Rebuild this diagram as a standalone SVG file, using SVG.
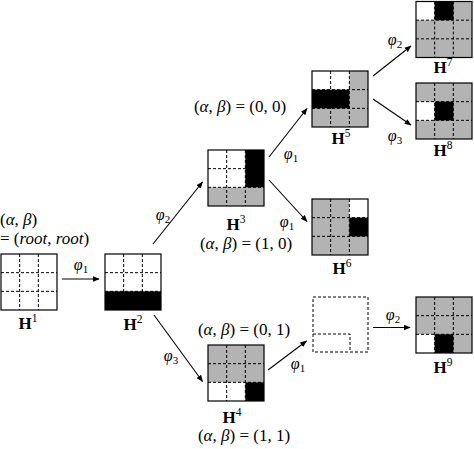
<svg xmlns="http://www.w3.org/2000/svg" xmlns:xlink="http://www.w3.org/1999/xlink" width="474" height="449" viewBox="0 0 474 449">
<style>
text{font-family:"Liberation Serif","DejaVu Serif",serif;fill:#000}
.m{font-size:17px}
.hl{font-size:17px;font-weight:bold;text-anchor:middle}
.hl tspan{font-size:11.5px;font-weight:normal}
.ph{font-size:16px;font-style:italic;text-anchor:middle}
.ph tspan{font-size:11px;font-style:normal}
.i{font-style:italic}
.dash{fill:none;stroke:#000;stroke-width:1;stroke-dasharray:3,2}
.border{fill:none;stroke:#000;stroke-width:1.2}
.g{fill:#b3b3b3}
.k{fill:#000}
.arr{fill:none;stroke:#000;stroke-width:1.1;marker-end:url(#ah)}
</style>
<defs>
<marker id="ah" viewBox="0 0 10 10" refX="9" refY="5" markerWidth="7" markerHeight="7" markerUnits="userSpaceOnUse" orient="auto">
<path d="M0,1L10,5L0,9z" fill="#000"/>
</marker>
<g id="grid">
<path class="dash" d="M18.67,0V56M37.33,0V56M0,18.67H56M0,37.33H56"/>
<rect class="border" x="0" y="0" width="56" height="56"/>
</g>
</defs>

<g id="connectors">
<line class="arr" x1="62" y1="279" x2="99" y2="279"/>
<line class="arr" x1="153" y1="244" x2="202.5" y2="182"/>
<line class="arr" x1="154" y1="315" x2="202.5" y2="381.5"/>
<line class="arr" x1="269" y1="157" x2="307" y2="108.5"/>
<line class="arr" x1="269" y1="180" x2="307" y2="221.5"/>
<line class="arr" x1="373" y1="76" x2="411" y2="46"/>
<line class="arr" x1="373" y1="99" x2="411" y2="125"/>
<line class="arr" x1="268" y1="370" x2="306.5" y2="341"/>
<line class="arr" x1="373" y1="327.5" x2="410" y2="327.5"/>
<text class="ph" x="81" y="270">φ<tspan dy="3">1</tspan></text>
<text class="ph" x="163" y="220">φ<tspan dy="3">2</tspan></text>
<text class="ph" x="171" y="361">φ<tspan dy="3">3</tspan></text>
<text class="ph" x="291" y="159">φ<tspan dy="3">1</tspan></text>
<text class="ph" x="287" y="227">φ<tspan dy="3">1</tspan></text>
<text class="ph" x="395" y="45">φ<tspan dy="3">2</tspan></text>
<text class="ph" x="395" y="141">φ<tspan dy="3">3</tspan></text>
<text class="ph" x="298" y="369">φ<tspan dy="3">1</tspan></text>
<text class="ph" x="393" y="320">φ<tspan dy="3">2</tspan></text>
</g>

<g id="H1">
<use xlink:href="#grid" transform="translate(1,254)"/>
<text class="hl" x="28" y="329">H<tspan dy="-7">1</tspan></text>
<text class="m" x="0" y="225">(<tspan class="i">α</tspan>, <tspan class="i">β</tspan>)</text>
<text class="m" x="0" y="244">= (<tspan class="i">root</tspan>, <tspan class="i">root</tspan>)</text>
</g>

<g id="H2">
<g transform="translate(105,254)">
<rect class="k" x="0" y="37.33" width="56" height="18.67"/>
<use xlink:href="#grid"/>
</g>
<text class="hl" x="133" y="330">H<tspan dy="-7">2</tspan></text>
</g>

<g id="H3">
<g transform="translate(208,150)">
<rect class="g" x="0" y="37.33" width="56" height="18.67"/>
<rect class="k" x="37.33" y="0" width="18.67" height="37.33"/>
<use xlink:href="#grid"/>
</g>
<text class="hl" x="236" y="230">H<tspan dy="-7">3</tspan></text>
<text class="m" x="246" y="249" text-anchor="middle">(<tspan class="i">α</tspan>, <tspan class="i">β</tspan>) = (1, 0)</text>
</g>

<g id="H5">
<g transform="translate(312,71)">
<rect class="g" x="37.33" y="0" width="18.67" height="56"/>
<rect class="g" x="0" y="37.33" width="56" height="18.67"/>
<rect class="k" x="0" y="18.67" width="37.33" height="18.67"/>
<use xlink:href="#grid"/>
</g>
<text class="hl" x="341" y="144">H<tspan dy="-7">5</tspan></text>
<text class="m" x="240" y="112" text-anchor="middle">(<tspan class="i">α</tspan>, <tspan class="i">β</tspan>) = (0, 0)</text>
</g>

<g id="H7">
<g transform="translate(416,1.5)">
<rect class="g" x="0" y="0" width="56" height="56"/>
<rect fill="#fff" x="0" y="0" width="18.67" height="18.67"/>
<rect class="k" x="18.67" y="0" width="18.67" height="18.67"/>
<use xlink:href="#grid"/>
</g>
<text class="hl" x="443" y="73">H<tspan dy="-7">7</tspan></text>
</g>

<g id="H8">
<g transform="translate(416,83)">
<rect class="g" x="0" y="0" width="56" height="56"/>
<rect fill="#fff" x="0" y="18.67" width="18.67" height="18.67"/>
<rect class="k" x="18.67" y="18.67" width="18.67" height="18.67"/>
<use xlink:href="#grid"/>
</g>
<text class="hl" x="443" y="156">H<tspan dy="-7">8</tspan></text>
</g>

<g id="H6">
<g transform="translate(312,199)">
<rect class="g" x="0" y="0" width="56" height="56"/>
<rect fill="#fff" x="37.33" y="0" width="18.67" height="18.67"/>
<rect class="k" x="37.33" y="18.67" width="18.67" height="18.67"/>
<use xlink:href="#grid"/>
</g>
<text class="hl" x="342" y="274">H<tspan dy="-7">6</tspan></text>
</g>

<g id="H4">
<g transform="translate(208,345)">
<rect class="g" x="0" y="0" width="56" height="37.33"/>
<rect class="k" x="37.33" y="37.33" width="18.67" height="18.67"/>
<use xlink:href="#grid"/>
</g>
<text class="hl" x="232" y="423">H<tspan dy="-7">4</tspan></text>
<text class="m" x="244" y="335" text-anchor="middle">(<tspan class="i">α</tspan>, <tspan class="i">β</tspan>) = (0, 1)</text>
<text class="m" x="244" y="441" text-anchor="middle">(<tspan class="i">α</tspan>, <tspan class="i">β</tspan>) = (1, 1)</text>
</g>

<g id="empty">
<rect class="dash" x="313" y="297" width="55" height="55"/>
<path class="dash" d="M313,334H350V352"/>
</g>

<g id="H9">
<g transform="translate(416,297)">
<rect class="g" x="0" y="0" width="56" height="56"/>
<rect fill="#fff" x="0" y="37.33" width="18.67" height="18.67"/>
<rect class="k" x="18.67" y="37.33" width="18.67" height="18.67"/>
<use xlink:href="#grid"/>
</g>
<text class="hl" x="443" y="373">H<tspan dy="-7">9</tspan></text>
</g>
</svg>
